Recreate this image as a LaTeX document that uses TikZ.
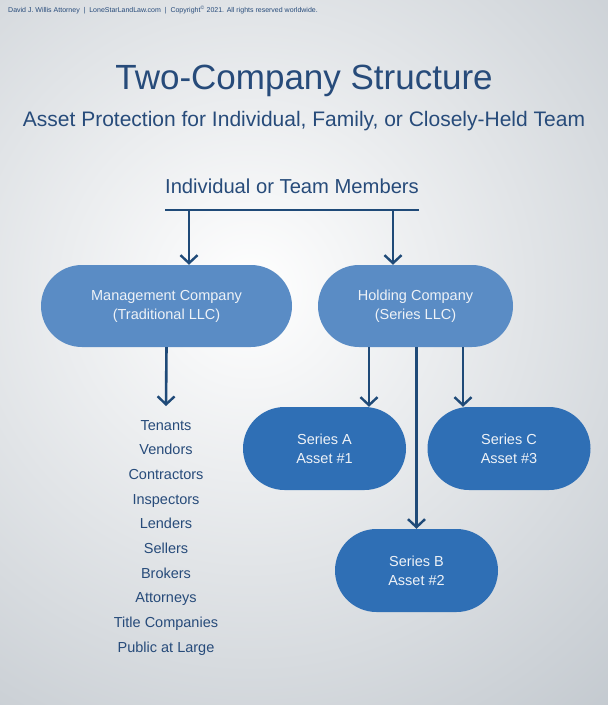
\documentclass[tikz,border=0pt]{standalone}
\usepackage{fontspec}
\setmainfont{Liberation Sans}
\usetikzlibrary{shapes.misc,arrows.meta}

\definecolor{titleblue}{HTML}{274B7A}
\definecolor{linkblue}{HTML}{1F4A78}
\definecolor{mgmtblue}{HTML}{5A8CC5}
\definecolor{seriesblue}{HTML}{2F6FB5}
\definecolor{boxtext}{HTML}{EEF2F7}
\definecolor{bgedge}{HTML}{C3C9CF}

\tikzset{
  company/.style={rounded rectangle, fill=mgmtblue, minimum height=82pt, inner sep=0pt,
    text=boxtext, align=center, font=\fontsize{14.5}{19}\selectfont},
  series/.style={company, fill=seriesblue, minimum width=163pt, minimum height=83pt},
  party/.style={text=titleblue, font=\fontsize{14.5}{17}\selectfont, inner sep=0pt, anchor=base},
  link/.style={draw=linkblue, line width=2.6pt},
  arr/.style={link, -{Straight Barb[length=8pt,width=17pt,line width=2.4pt]}}
}

\begin{document}
\begin{tikzpicture}[x=1pt,y=-1pt]

% backdrop
\useasboundingbox (0,0) rectangle (608,705);
\begin{scope}
\clip (0,0) rectangle (608,705);
\shade[inner color=white, outer color=bgedge] (250,290) circle (560);
\end{scope}

% titles
\node[anchor=west, text=titleblue, font=\fontsize{7}{8}\selectfont, inner sep=0pt] (credit) at (8,10)
  {David J. Willis Attorney \ | \ LoneStarLandLaw.com \ | \ Copyright\textsuperscript{\tiny\copyright} 2021. All rights reserved worldwide.};
\node[text=titleblue, font=\fontsize{35}{38}\selectfont, inner sep=0pt] (title) at (304,81) {Two-Company Structure};
\node[text=titleblue, font=\fontsize{21}{24}\selectfont, inner sep=0pt] (subtitle) at (304,121)
  {Asset Protection for Individual, Family, or Closely-Held Team};
\node[text=titleblue, font=\fontsize{20.2}{22}\selectfont, inner sep=0pt] (members) at (292,186) {Individual or Team Members};

% companies
\node[company, minimum width=251pt] (mgmt) at (166.5,306) {Management Company\\(Traditional LLC)};
\node[company, minimum width=195pt] (holding) at (415.5,306) {Holding Company\\(Series LLC)};

\node[series] (serA) at (324.5,448.5) {Series A\\Asset \#1};
\node[series] (serC) at (509,448.5) {Series C\\Asset \#3};
\node[series] (serB) at (416.5,570.5) {Series B\\Asset \#2};

% members bar
\coordinate (barL) at (165,210);
\coordinate (barR) at (419,210);
\draw[link] (barL) -- (barR);
\coordinate (toMgmt) at (189,210);
\coordinate (toHold) at (393,210);
\draw[arr] (toMgmt) -- (toMgmt |- mgmt.north);
\draw[arr] (toHold) -- (toHold |- holding.north);

% holding to series
\coordinate (toA) at (369,0);
\coordinate (toC) at (463,0);
\draw[arr] (toA |- holding.south) -- (toA |- serA.north);
\draw[arr] (toC |- holding.south) -- (toC |- serC.north);
\draw[arr] (serB.north |- holding.south) -- (serB.north);

% third parties
\node[party] (p1) at (166,430) {Tenants};
\node[party] (p2) at (166,454.7) {Vendors};
\node[party] (p3) at (166,479.4) {Contractors};
\node[party] (p4) at (166,504) {Inspectors};
\node[party] (p5) at (166,528.7) {Lenders};
\node[party] (p6) at (166,553.4) {Sellers};
\node[party] (p7) at (166,578) {Brokers};
\node[party] (p8) at (166,602.7) {Attorneys};
\node[party] (p9) at (166,627.4) {Title Companies};
\node[party] (p10) at (166,652) {Public at Large};
\coordinate (partyTop) at (166,406);
\draw[arr] (mgmt.south) -- (partyTop);

\end{tikzpicture}
\end{document}
